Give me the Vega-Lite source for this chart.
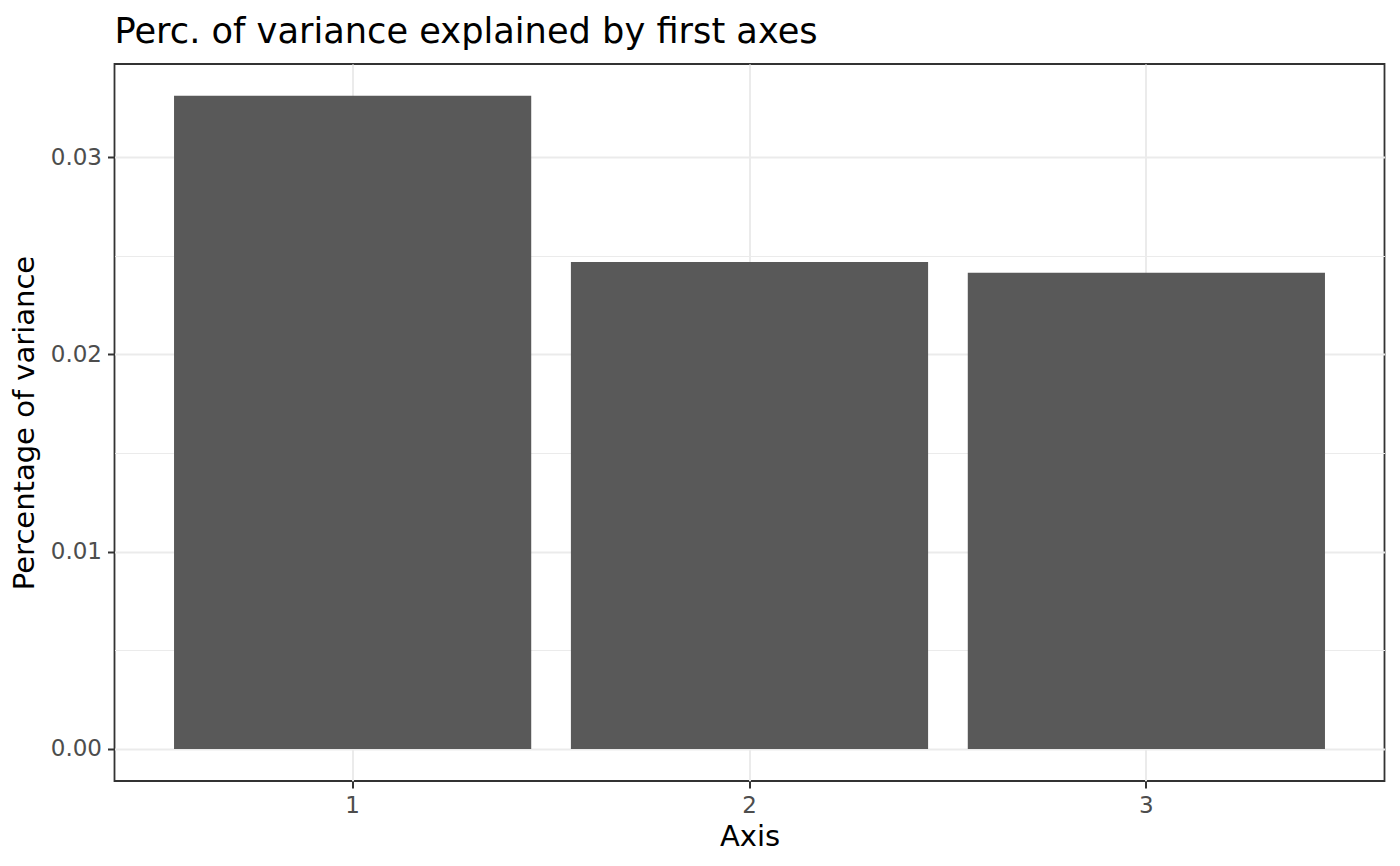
{
  "$schema": "https://vega.github.io/schema/vega-lite/v6.json",
  "autosize": {"type": "none"},
  "width": 1270,
  "height": 717,
  "padding": {"left": 114.5, "top": 64, "right": 15.5, "bottom": 85},
  "background": "white",
  "title": {
    "text": "Perc. of variance explained by first axes",
    "anchor": "start",
    "frame": "group",
    "font": "DejaVu Sans",
    "fontSize": 35.2,
    "fontWeight": "normal",
    "color": "#000000",
    "baseline": "alphabetic",
    "offset": 21,
    "dy": 35
  },
  "data": {
    "values": [
      {"axis": "1", "variance": 0.03311},
      {"axis": "2", "variance": 0.02468},
      {"axis": "3", "variance": 0.02413}
    ]
  },
  "mark": {"type": "bar", "color": "#595959"},
  "encoding": {
    "x": {
      "field": "axis",
      "type": "ordinal",
      "scale": {"paddingInner": 0.1, "paddingOuter": 0.15},
      "axis": {
        "title": "Axis",
        "labelAngle": 0,
        "bandPosition": 0.5,
        "domain": false,
        "grid": true,
        "gridColor": "#EBEBEB",
        "gridWidth": 2,
        "tickColor": "#333333",
        "tickWidth": 2,
        "tickSize": 7,
        "labelFont": "DejaVu Sans",
        "labelFontSize": 23,
        "labelColor": "#4D4D4D",
        "labelBaseline": "alphabetic",
        "labelPadding": 24,
        "titleFont": "DejaVu Sans",
        "titleFontSize": 29,
        "titleFontWeight": "normal",
        "titleColor": "#000000",
        "titleBaseline": "alphabetic",
        "titleAlign": "center",
        "titleX": 635,
        "titleY": 64
      }
    },
    "y": {
      "field": "variance",
      "type": "quantitative",
      "scale": {"domain": [-0.001622, 0.034713], "nice": false, "zero": false},
      "axis": {
        "title": "Percentage of variance",
        "values": [0, 0.005, 0.01, 0.015, 0.02, 0.025, 0.03],
        "labelExpr": "round(datum.value * 200) % 2 == 0 ? format(datum.value, '.2f') : ''",
        "domain": false,
        "grid": true,
        "gridColor": "#EBEBEB",
        "gridWidth": {"condition": {"test": "round(datum.value * 200) % 2 == 1", "value": 1}, "value": 2},
        "tickOpacity": {"condition": {"test": "round(datum.value * 200) % 2 == 1", "value": 0}, "value": 1},
        "tickColor": "#333333",
        "tickWidth": 2,
        "tickSize": 7,
        "labelFont": "DejaVu Sans",
        "labelFontSize": 23,
        "labelColor": "#4D4D4D",
        "labelBaseline": "middle",
        "labelPadding": 6,
        "labelFlush": false,
        "labelOverlap": false,
        "titleFont": "DejaVu Sans",
        "titleFontSize": 29,
        "titleFontWeight": "normal",
        "titleColor": "#000000",
        "titleBaseline": "alphabetic",
        "titleAlign": "center",
        "titleAngle": 270,
        "titleX": -81.2,
        "titleY": 358.5
      }
    }
  },
  "config": {
    "font": "DejaVu Sans",
    "view": {"stroke": "#333333", "strokeWidth": 1.8}
  }
}
